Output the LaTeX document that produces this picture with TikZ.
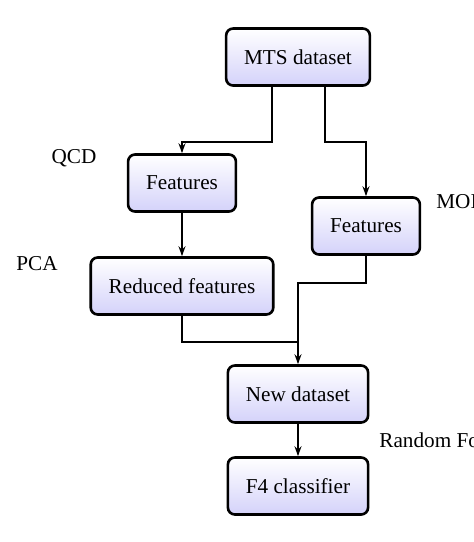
\documentclass[tikz,border=0pt]{standalone}
\usepackage{fontspec}
\setmainfont{Liberation Serif}
\usetikzlibrary{arrows.meta}
\definecolor{boxbot}{RGB}{212,210,250}
\tikzset{
  every node/.style={font=\fontsize{10.6}{12}\selectfont},
  procbox/.style={draw, line width=1.3pt, rounded corners=3.5pt,
    top color=white, bottom color=boxbot,
    inner xsep=9pt, minimum height=28.5pt},
  arr/.style={-{Stealth[length=5pt,width=3.5pt]}, line width=0.8pt},
  conn/.style={line width=0.8pt}
}
\begin{document}
\begin{tikzpicture}[x=0.5pt,y=-0.5pt]
            \useasboundingbox (0,0) rectangle (474,542);
        
            \node[procbox] (mts) at (298,57) {MTS dataset};
            \node[procbox] (featq) at (182,183) {Features};
            \node[procbox] (red) at (182,286) {Reduced features};
            \node[procbox] (featm) at (366,226) {Features};
            \node[procbox] (new) at (298,394) {New dataset};
            \node[procbox] (f4) at (298,486) {F4 classifier};
        
            \coordinate (join) at (298,342);
        
            \draw[arr] ([xshift=-13pt]mts.south) -- ++(0,-27.5pt) -| (featq.north);
            \draw[arr] ([xshift=13.5pt]mts.south) -- ++(0,-27.5pt) -| (featm.north);
            \draw[arr] (featq) -- (red);
            \draw[conn] (red.south) |- (join);
            \draw[arr] (featm.south) -- ++(0,-13.5pt) -| (new.north);
            \draw[arr] (new) -- (f4);
        
            \node (qcd) at (74,158) {QCD};
            \node (pca) at (37,264) {PCA};
            \node[anchor=west, inner sep=0pt] (moi) at (436,202) {MOI};
            \node[anchor=west, inner sep=0pt] (rf) at (379,440) {Random Forest};
        \end{tikzpicture}
\end{document}
